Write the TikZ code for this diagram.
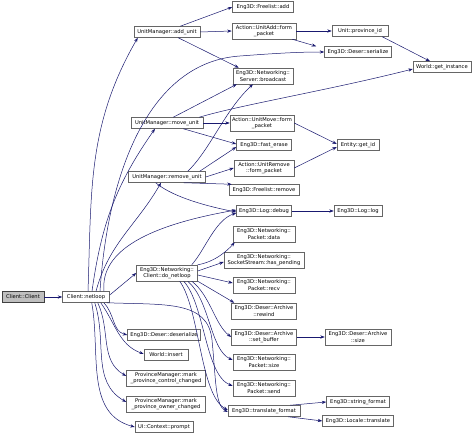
\documentclass[tikz,border=0pt]{standalone}
\usepackage{fontspec}
\setmainfont{DejaVu Sans}
\usetikzlibrary{arrows.meta}
\definecolor{mblue}{HTML}{191970}
\definecolor{boxgray}{HTML}{666666}
\definecolor{rootfill}{HTML}{BFBFBF}
\definecolor{rootdraw}{HTML}{404040}
\tikzset{
  box/.style={draw=boxgray, line width=0.5pt, font=\fontsize{5.2}{6.2}\selectfont, align=center, inner sep=0pt, minimum height=11pt, text=black},
  dbox/.style={box, minimum height=16pt},
  rootbox/.style={box, fill=rootfill, draw=rootdraw},
  conn/.style={draw=mblue, line width=0.5pt, -{Stealth[length=4.5pt,width=3.2pt]}}
}
\begin{document}
\begin{tikzpicture}[x=1pt,y=-1pt]
\fill[white] (0,0) rectangle (474,435);
\useasboundingbox (0,0) rectangle (474,435);
% nodes
\node[rootbox, minimum width=42pt] (client) at (23,297) {Client::Client};
\node[box, minimum width=47pt] (netloop) at (86,297) {Client::netloop};
\node[box, minimum width=66pt] (addunit) at (167,32) {UnitManager::add\_unit};
\node[box, minimum width=61pt] (fladd) at (263,7) {Eng3D::Freelist::add};
\node[dbox, minimum width=64pt] (uaform) at (264,31) {Action::UnitAdd::form\\\_packet};
\node[box, minimum width=56pt] (provid) at (360,31) {Unit::province\_id};
\node[box, minimum width=67pt] (serialize) at (358,52) {Eng3D::Deser::serialize};
\node[box, minimum width=58pt] (getinst) at (442,67) {World::get\_instance};
\node[dbox, minimum width=60pt] (broadcast) at (263,76) {Eng3D::Networking::\\Server::broadcast};
\node[box, minimum width=72pt] (moveunit) at (167,123) {UnitManager::move\_unit};
\node[dbox, minimum width=64pt] (umform) at (262,123) {Action::UnitMove::form\\\_packet};
\node[box, minimum width=55pt] (fasterase) at (264,145) {Eng3D::fast\_erase};
\node[box, minimum width=42pt] (getid) at (358,145) {Entity::get\_id};
\node[box, minimum width=77pt] (removeunit) at (167,177) {UnitManager::remove\_unit};
\node[dbox, minimum width=60pt] (urform) at (264,168) {Action::UnitRemove\\::form\_packet};
\node[box, minimum width=70pt] (flremove) at (264,190) {Eng3D::Freelist::remove};
\node[box, minimum width=55pt] (debug) at (264,211) {Eng3D::Log::debug};
\node[box, minimum width=48pt] (log) at (358,211) {Eng3D::Log::log};
\node[dbox, minimum width=62pt] (pdata) at (264,234) {Eng3D::Networking::\\Packet::data};
\node[dbox, minimum width=80pt] (haspending) at (264,260) {Eng3D::Networking::\\SocketStream::has\_pending};
\node[dbox, minimum width=62pt] (precv) at (264,285) {Eng3D::Networking::\\Packet::recv};
\node[dbox, minimum width=65pt] (rewind) at (264,311) {Eng3D::Deser::Archive\\::rewind};
\node[dbox, minimum width=61pt] (donetloop) at (167,273) {Eng3D::Networking::\\Client::do\_netloop};
\node[dbox, minimum width=65pt] (setbuffer) at (264,337) {Eng3D::Deser::Archive\\::set\_buffer};
\node[dbox, minimum width=66pt] (asize) at (358,337) {Eng3D::Deser::Archive\\::size};
\node[dbox, minimum width=62pt] (psize) at (264,362) {Eng3D::Networking::\\Packet::size};
\node[dbox, minimum width=62pt] (psend) at (264,388) {Eng3D::Networking::\\Packet::send};
\node[box, minimum width=72pt] (trformat) at (264,411) {Eng3D::translate\_format};
\node[box, minimum width=63pt] (strformat) at (358,402) {Eng3D::string\_format};
\node[box, minimum width=71pt] (loctrans) at (358,421) {Eng3D::Locale::translate};
\node[box, minimum width=73pt] (deserialize) at (164,335) {Eng3D::Deser::deserialize};
\node[box, minimum width=44pt] (insert) at (166,355) {World::insert};
\node[dbox, minimum width=79pt] (markctrl) at (166,378) {ProvinceManager::mark\\\_province\_control\_changed};
\node[dbox, minimum width=79pt] (markowner) at (166,404) {ProvinceManager::mark\\\_province\_owner\_changed};
\node[box, minimum width=58pt] (prompt) at (164,427) {UI::Context::prompt};
% edges
\draw[conn] (client) -- (netloop);
\draw[conn] ([xshift=2pt]netloop.north) to[out=88,in=240] ([xshift=4pt]addunit.south west);
\draw[conn] ([xshift=6pt]netloop.north) to[out=82,in=235] ([xshift=-12pt]moveunit.south);
\draw[conn] ([xshift=10pt]netloop.north) to[out=75,in=240] ([xshift=-6pt]removeunit.south);
\draw[conn] ([xshift=14pt]netloop.north) .. controls (108,170) and (150,62) .. (240,56) .. controls (280,53) and (300,52) .. (serialize.west);
\draw[conn] ([xshift=18pt]netloop.north) .. controls (100,250) and (150,225) .. ([yshift=1pt]debug.west);
\draw[conn] ([yshift=2pt]netloop.east) -- (donetloop.west);
\draw[conn] ([xshift=-3pt]netloop.south east) .. controls (165,305) and (208,300) .. (212,340) .. controls (216,380) and (215,405) .. ([yshift=-1pt]trformat.west);
\draw[conn] ([xshift=-6pt]netloop.south east) to[out=-45,in=165] (deserialize.west);
\draw[conn] ([xshift=-9pt]netloop.south east) to[out=-55,in=160] ([yshift=1pt]insert.west);
\draw[conn] ([xshift=-12pt]netloop.south east) to[out=-65,in=150] ([yshift=2pt]markctrl.west);
\draw[conn] ([xshift=-15pt]netloop.south east) to[out=-72,in=150] ([yshift=2pt]markowner.west);
\draw[conn] ([xshift=-18pt]netloop.south east) to[out=-80,in=165] (prompt.west);
% add_unit
\draw[conn] ([xshift=-20pt]addunit.north east) -- (fladd.west);
\draw[conn] (addunit.east) -- (uaform.west);
\draw[conn] ([xshift=-22pt]addunit.south east) -- ([xshift=6pt]broadcast.north west);
\draw[conn] (uaform.east) -- (provid.west);
\draw[conn] ([xshift=-4pt]uaform.south east) -- ([xshift=-8pt]serialize.north west);
\draw[conn] ([xshift=-6pt]provid.south east) -- ([xshift=-12pt]getinst.north);
% move_unit
\draw[conn] ([xshift=-30pt]moveunit.north east) -- ([xshift=4pt]broadcast.south west);
\draw[conn] ([xshift=-4pt]moveunit.north east) .. controls (240,105) and (330,90) .. ([yshift=-2pt]getinst.west);
\draw[conn] (moveunit.east) -- (umform.west);
\draw[conn] ([xshift=-20pt]moveunit.south east) -- ([yshift=1pt]fasterase.west);
\draw[conn] (umform.east) -- ([yshift=1pt]getid.west);
% remove_unit
\draw[conn] ([xshift=-18pt]removeunit.north east) .. controls (210,150) and (225,110) .. ([xshift=-10pt]broadcast.south);
\draw[conn] ([xshift=-6pt]removeunit.north east) -- ([yshift=-2pt]fasterase.west);
\draw[conn] (removeunit.east) -- (urform.west);
\draw[conn] ([xshift=-22pt]removeunit.south east) -- ([xshift=3pt]flremove.north west);
\draw[conn] ([xshift=-50pt]removeunit.south east) .. controls (170,195) and (200,205) .. ([yshift=-1pt]debug.west);
\draw[conn] (urform.east) -- ([yshift=-2pt]getid.west);
% do_netloop
\draw[conn] ([xshift=-6pt]donetloop.north east) .. controls (205,250) and (215,220) .. ([yshift=-2pt]debug.west);
\draw[conn] (donetloop.north east) .. controls (215,262) and (228,250) .. ([xshift=2pt]pdata.south west);
\draw[conn] ([yshift=2pt]donetloop.east) -- ([yshift=-2pt]haspending.west);
\draw[conn] ([yshift=-2pt]donetloop.east) -- ([yshift=2pt]precv.west);
\draw[conn] (donetloop.south east) -- ([xshift=3pt]rewind.north west);
\draw[conn] ([xshift=-6pt]donetloop.south east) .. controls (210,295) and (215,325) .. (setbuffer.west);
\draw[conn] ([xshift=-10pt]donetloop.south east) .. controls (210,300) and (210,350) .. ([yshift=2pt]psize.west);
\draw[conn] ([xshift=-14pt]donetloop.south east) .. controls (205,305) and (205,375) .. ([yshift=2pt]psend.west);
\draw[conn] ([xshift=-18pt]donetloop.south east) .. controls (200,310) and (200,395) .. ([yshift=1pt]trformat.west);
% third level
\draw[conn] (debug) -- (log);
\draw[conn] (setbuffer) -- (asize);
\draw[conn] ([xshift=-10pt]trformat.north east) -- (strformat.west);
\draw[conn] ([xshift=-12pt]trformat.south east) -- (loctrans.west);
\end{tikzpicture}
\end{document}
